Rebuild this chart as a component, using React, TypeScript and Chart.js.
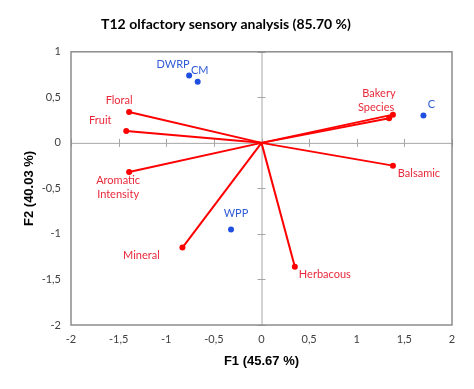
import React, { useEffect, useRef } from "react";
import { Chart, registerables } from "chart.js";

Chart.register(...registerables);

// Variables (red vectors)
const variableNames = ["Floral", "Fruit", "Aromatic Intensity", "Bakery", "Species", "Balsamic", "Mineral", "Herbacous"];
const variableF1 = [-1.39, -1.42, -1.39, 1.38, 1.34, 1.38, -0.83, 0.35];
const variableF2 = [0.34, 0.13, -0.32, 0.31, 0.27, -0.25, -1.15, -1.36];

// Observations (blue points)
const observationNames = ["DWRP", "CM", "C", "WPP"];
const observationF1 = [-0.76, -0.67, 1.7, -0.32];
const observationF2 = [0.74, 0.67, 0.3, -0.95];

const xTicks = [-2, -1.5, -1, -0.5, 0, 0.5, 1, 1.5, 2];
const yTicks = [-2, -1.5, -1, -0.5, 0, 0.5, 1];

// label placement (pixel offsets from the point), style only
const variableLabelOffsets: [number, number][] = [
  [-10, -11], [-26, -11], [-11, 8], [-14, -21], [-13, -11], [26, 8], [-41, 8], [30, 8],
];
const observationLabelOffsets: [number, number][] = [[-16, -11], [2, -11], [8, -11], [5, -16]];

const RED = "#ff0000";
const RED_TEXT = "#e8283a";
const BLUE = "#1f4fe0";
const BLUE_TEXT = "#2f5cd4";
const GRAY = "#a6a6a6";

const fmt = (v: number) => String(v).replace(".", ",");

const decorPlugin = {
  id: "decor",
  beforeDatasetsDraw(chart: any) {
    const { ctx, chartArea, scales } = chart;
    const xs = scales.x;
    const ys = scales.y;
    const x0 = xs.getPixelForValue(0);
    const y0 = ys.getPixelForValue(0);
    ctx.save();
    ctx.strokeStyle = GRAY;
    ctx.lineWidth = 1;
    ctx.beginPath();
    ctx.moveTo(chartArea.left, y0 + 0.5);
    ctx.lineTo(chartArea.right, y0 + 0.5);
    ctx.moveTo(x0 + 0.5, chartArea.top);
    ctx.lineTo(x0 + 0.5, chartArea.bottom);
    xTicks.forEach((t) => {
      const px = Math.round(xs.getPixelForValue(t)) + 0.5;
      ctx.moveTo(px, y0 - 4);
      ctx.lineTo(px, y0 + 4);
    });
    yTicks.forEach((t) => {
      const py = Math.round(ys.getPixelForValue(t)) + 0.5;
      ctx.moveTo(x0 - 4, py);
      ctx.lineTo(x0 + 4, py);
    });
    ctx.stroke();
    ctx.strokeStyle = "#8c8c8c";
    ctx.lineWidth = 1.5;
    ctx.strokeRect(chartArea.left, chartArea.top, chartArea.right - chartArea.left, chartArea.bottom - chartArea.top);
    ctx.restore();
  },
  afterDatasetsDraw(chart: any) {
    const { ctx, scales } = chart;
    const xs = scales.x;
    const ys = scales.y;
    ctx.save();
    ctx.font = "11px Lato";
    ctx.textAlign = "center";
    ctx.textBaseline = "middle";
    ctx.fillStyle = RED_TEXT;
    variableNames.forEach((name, i) => {
      const px = xs.getPixelForValue(variableF1[i]) + variableLabelOffsets[i][0];
      const py = ys.getPixelForValue(variableF2[i]) + variableLabelOffsets[i][1];
      const parts = name === "Aromatic Intensity" ? ["Aromatic", "Intensity"] : [name];
      parts.forEach((p, k) => ctx.fillText(p, px, py + k * 14.5));
    });
    ctx.fillStyle = BLUE_TEXT;
    observationNames.forEach((name, i) => {
      const px = xs.getPixelForValue(observationF1[i]) + observationLabelOffsets[i][0];
      const py = ys.getPixelForValue(observationF2[i]) + observationLabelOffsets[i][1];
      ctx.fillText(name, px, py);
    });
    ctx.restore();
  },
};

export default function App() {
  const ref = useRef<HTMLCanvasElement | null>(null);
  useEffect(() => {
    if (!ref.current) return;
    const vectorSets = variableNames.map((name, i) => ({
      label: name,
      data: [
        { x: 0, y: 0 },
        { x: variableF1[i], y: variableF2[i] },
      ],
      showLine: true,
      borderColor: RED,
      backgroundColor: RED,
      borderWidth: 2,
      pointRadius: [0, 3],
      pointBorderWidth: 0,
    }));
    const chart = new Chart(ref.current, {
      type: "scatter",
      data: {
        datasets: [
          ...vectorSets,
          {
            label: "Observations",
            data: observationNames.map((_, i) => ({ x: observationF1[i], y: observationF2[i] })),
            backgroundColor: BLUE,
            borderColor: BLUE,
            pointRadius: 3,
            pointBorderWidth: 0,
          },
        ] as any,
      },
      options: {
        animation: false,
        responsive: false,
        maintainAspectRatio: false,
        layout: { padding: { left: 0, right: 22, top: 0, bottom: 0 } },
        plugins: {
          legend: { display: false },
          tooltip: { enabled: false },
          title: {
            display: true,
            text: "T12 olfactory sensory analysis (85.70 %)",
            color: "#000",
            font: { family: "Lato", size: 14, weight: "bold" },
            padding: { top: 16, bottom: 19 },
          },
        },
        scales: {
          x: {
            type: "linear",
            min: -2,
            max: 2,
            afterBuildTicks: (s: any) => {
              s.ticks = xTicks.map((v) => ({ value: v }));
            },
            afterFit: (s: any) => {
              s.height = 64;
            },
            grid: { display: false, drawTicks: false },
            border: { display: false },
            ticks: {
              callback: (v: any) => fmt(Number(v)),
              color: "#404040",
              font: { family: "Lato", size: 11 },
              padding: 8,
              maxRotation: 0,
              autoSkip: false,
            },
            title: {
              display: true,
              text: "F1 (45.67 %)",
              color: "#000",
              font: { family: "Liberation Sans", size: 13, weight: "bold" },
              padding: { top: 0, bottom: 20 },
            },
          },
          y: {
            type: "linear",
            min: -2,
            max: 1,
            afterBuildTicks: (s: any) => {
              s.ticks = yTicks.map((v) => ({ value: v }));
            },
            afterFit: (s: any) => {
              s.width = 71;
            },
            grid: { display: false, drawTicks: false },
            border: { display: false },
            ticks: {
              callback: (v: any) => fmt(Number(v)),
              color: "#404040",
              font: { family: "Lato", size: 11 },
              padding: 10,
              autoSkip: false,
            },
            title: {
              display: true,
              text: "F2 (40.03 %)",
              color: "#000",
              font: { family: "Liberation Sans", size: 13, weight: "bold" },
              padding: { top: 22, bottom: 0 },
            },
          },
        },
      },
      plugins: [decorPlugin],
    });
    return () => chart.destroy();
  }, []);
  return (
    <div style={{ position: "fixed", left: 0, top: 0, width: 474, height: 389, background: "#fff" }}>
      <canvas ref={ref} width={474} height={389} style={{ display: "block" }} />
    </div>
  );
}
